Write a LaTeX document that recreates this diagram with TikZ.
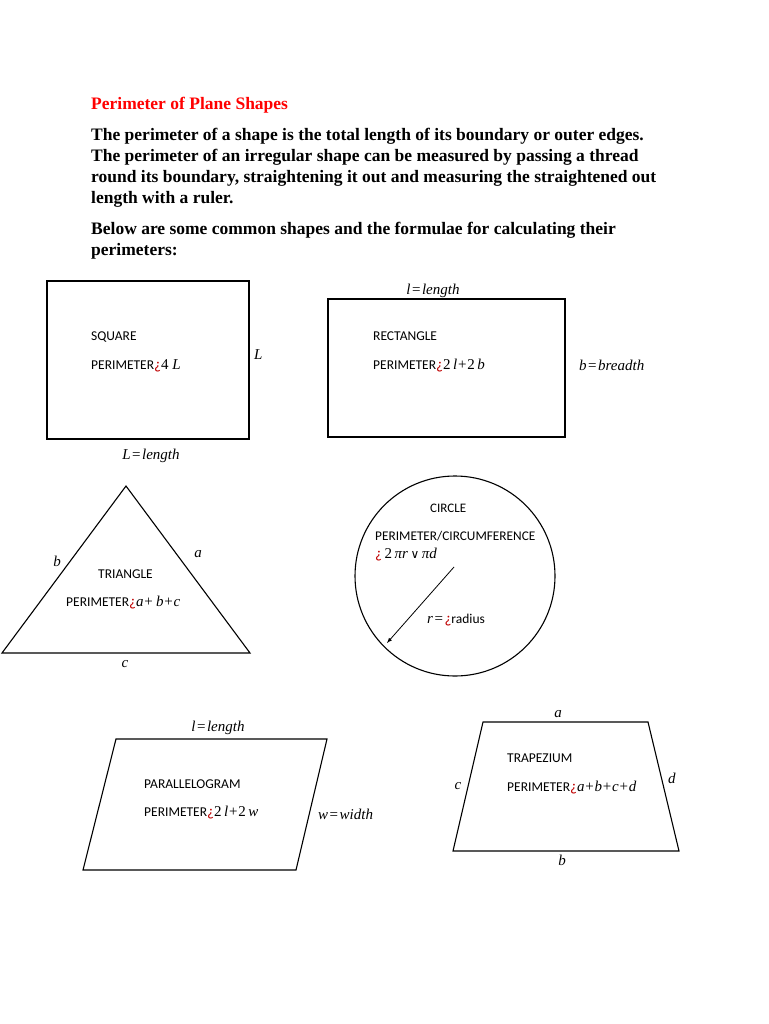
\documentclass[tikz,border=0pt]{standalone}
\usepackage{fontspec}
\setmainfont{Liberation Serif}
\newfontfamily\labfont{Carlito}
\newfontfamily\symfont{DejaVu Serif}
\definecolor{titlered}{RGB}{255,0,0}
\definecolor{qred}{RGB}{192,0,0}
\newcommand{\qm}{{\labfont\fontsize{15}{16}\selectfont\color{qred}¿}}
\newcommand{\mi}[1]{\textit{#1}}
\newcommand{\eqs}{\kern1.5pt=\kern1.5pt}
\newcommand{\pl}{\kern0.8pt+\kern0.8pt}
\newcommand{\mf}{\fontsize{15}{17}\selectfont\rmfamily}
\begin{document}
\begin{tikzpicture}[x=1pt,y=-1pt,
  outline/.style={draw=black,line width=1.1pt,line join=miter},
  titletxt/.style={anchor=base west,inner sep=0,font=\fontsize{17.5}{20}\selectfont\bfseries,text=titlered},
  para/.style={anchor=base west,inner sep=0,font=\fontsize{17.5}{21}\selectfont\bfseries},
  lab/.style={anchor=base west,inner sep=0,font=\labfont\fontsize{13.5}{15}\selectfont},
  mlab/.style={anchor=base,inner sep=0,font=\mf},
  mlabw/.style={anchor=base west,inner sep=0,font=\mf}]
\useasboundingbox (0,0) rectangle (768,1024);
\fill[white] (0,0) rectangle (768,1024);

\node[titletxt] (title) at (91,109.5) {Perimeter of Plane Shapes};
\node[para] (p1a) at (91,140.5) {The perimeter of a shape is the total length of its boundary or outer edges.};
\node[para] (p1b) at (91,161.5) {The perimeter of an irregular shape can be measured by passing a thread};
\node[para] (p1c) at (91,182.5) {round its boundary, straightening it out and measuring the straightened out};
\node[para] (p1d) at (91,203.5) {length with a ruler.};
\node[para] (p2a) at (91,234.5) {Below are some common shapes and the formulae for calculating their};
\node[para] (p2b) at (91,255.5) {perimeters:};

% square
\draw[outline] (47,281) rectangle (249,439);
\draw[line width=2pt] (47,439) -- (249,439);
\node[lab] (sqname) at (91,340.5) {SQUARE};
\node[lab] (sqper) at (91,369.5) {PERIMETER\qm{\mf 4 \mi{L}}};
\node[mlabw] (sqL) at (254,359) {\mi{L}};
\node[mlab] (sqlen) at (151,459) {\mi{L}\eqs\mi{length}};

% rectangle
\draw[outline] (328,299) rectangle (565,437);
\node[mlab] (relen) at (433,294) {\mi{l}\eqs\mi{length}};
\node[lab] (rename) at (373,340.5) {RECTANGLE};
\node[lab] (reper) at (373,369.5) {PERIMETER\qm{\mf 2\,\mi{l}\pl2\,\mi{b}}};
\node[mlabw] (rebr) at (579,370) {\mi{b}\eqs\mi{breadth}};

% triangle
\draw[outline] (126,486) -- (250,653) -- (2,653) -- cycle;
\node[mlab] (trb) at (57,566) {\mi{b}};
\node[mlab] (tra) at (198,557) {\mi{a}};
\node[mlab] (trc) at (125,667) {\mi{c}};
\node[lab] (trname) at (98,578.5) {TRIANGLE};
\node[lab] (trper) at (66,606.5) {PERIMETER\qm{\mf\mi{a}\pl\,\mi{b}\pl\mi{c}}};

% circle
\draw[outline] (455,576) circle (100);
\node[lab,font=\labfont\fontsize{13}{14}\selectfont] (ciname) at (430,512.5) {CIRCLE};
\node[lab,font=\labfont\fontsize{13.3}{14}\selectfont] (ciper) at (375,540.5) {PERIMETER/CIRCUMFERENCE};
\node[lab] (ciform) at (375,558) {\qm{\mf\,2\,\mi{πr}\,{\symfont\fontsize{12}{14}\selectfont∨}\,\mi{πd}}};
\coordinate (cic) at (454,567);
\coordinate (cie) at (387,643);
\draw[-latex,line width=0.8pt] (cic) -- (cie);
\node[lab] (cir) at (427,623.5) {{\mf\mi{r}\eqs}\qm{}radius};

% parallelogram
\draw[outline] (116,739) -- (327,739) -- (296,870) -- (83,870) -- cycle;
\node[mlab] (palen) at (218,731) {\mi{l}\eqs\mi{length}};
\node[lab] (paname) at (144,788.5) {PARALLELOGRAM};
\node[lab] (paper) at (144,816.5) {PERIMETER\qm{\mf 2\,\mi{l}\pl2\,\mi{w}}};
\node[mlabw] (pawi) at (318,819) {\mi{w}\eqs\mi{width}};

% trapezium
\draw[outline] (483,722) -- (648,722) -- (679,851) -- (453,851) -- cycle;
\node[mlab] (tza) at (558,717) {\mi{a}};
\node[mlab] (tzc) at (458,789) {\mi{c}};
\node[mlab] (tzd) at (672,783) {\mi{d}};
\node[mlab] (tzb) at (562,865) {\mi{b}};
\node[lab] (tzname) at (507,762.5) {TRAPEZIUM};
\node[lab] (tzper) at (507,791.5) {PERIMETER\qm{\mf\mi{a}\pl\mi{b}\pl\mi{c}\pl\mi{d}}};
\end{tikzpicture}
\end{document}
